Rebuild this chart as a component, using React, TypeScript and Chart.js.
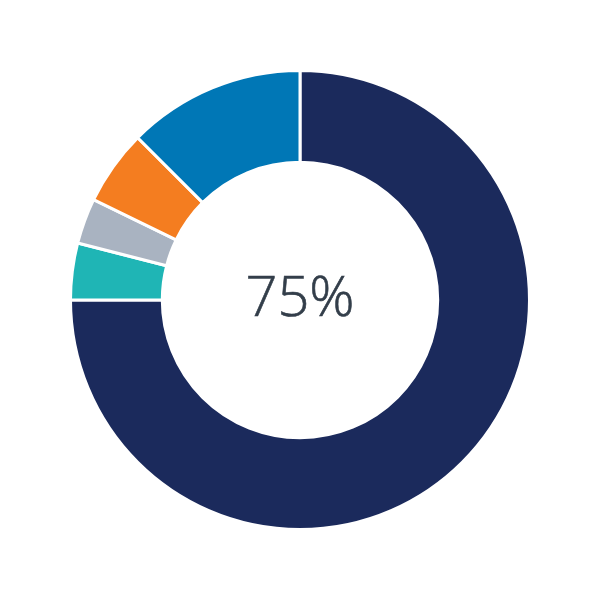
import React, { useEffect, useRef } from "react";
import { Chart, registerables } from "chart.js";

Chart.register(...registerables);

const labels = ["Navy", "Teal", "Gray", "Orange", "Blue"];
const values = [75, 4, 3.2, 5.3, 12.5];
const colors = ["#1b2a5c", "#1fb5b5", "#a9b3c1", "#f47d20", "#0077b6"];
const centerText = "75%";

const centerPlugin = {
  id: "centerText",
  afterDraw(chart: any) {
    const { ctx, chartArea } = chart;
    const cx = (chartArea.left + chartArea.right) / 2;
    const cy = (chartArea.top + chartArea.bottom) / 2;
    ctx.save();
    ctx.font = "300 56px 'Open Sans', sans-serif";
    ctx.fillStyle = "#333e4a";
    ctx.strokeStyle = "#333e4a";
    ctx.lineWidth = 0.6;
    ctx.textAlign = "center";
    ctx.textBaseline = "middle";
    ctx.fillText(centerText, cx, cy);
    ctx.strokeText(centerText, cx, cy);
    ctx.restore();
  },
};

export default function App() {
  const ref = useRef<HTMLCanvasElement>(null);
  useEffect(() => {
    const chart = new Chart(ref.current!, {
      type: "doughnut",
      data: {
        labels,
        datasets: [
          {
            data: values,
            backgroundColor: colors,
            borderColor: "#ffffff",
            borderWidth: 3,
          },
        ],
      },
      options: {
        animation: false,
        responsive: false,
        cutout: "60%",
        layout: { padding: 69 },
        plugins: { legend: { display: false }, tooltip: { enabled: false } },
      },
      plugins: [centerPlugin],
    });
    return () => chart.destroy();
  }, []);
  return (
    <div style={{ position: "absolute", left: 0, top: 0, width: 600, height: 600, background: "#fff" }}>
      <canvas ref={ref} width={600} height={600} style={{ width: 600, height: 600 }} />
    </div>
  );
}
